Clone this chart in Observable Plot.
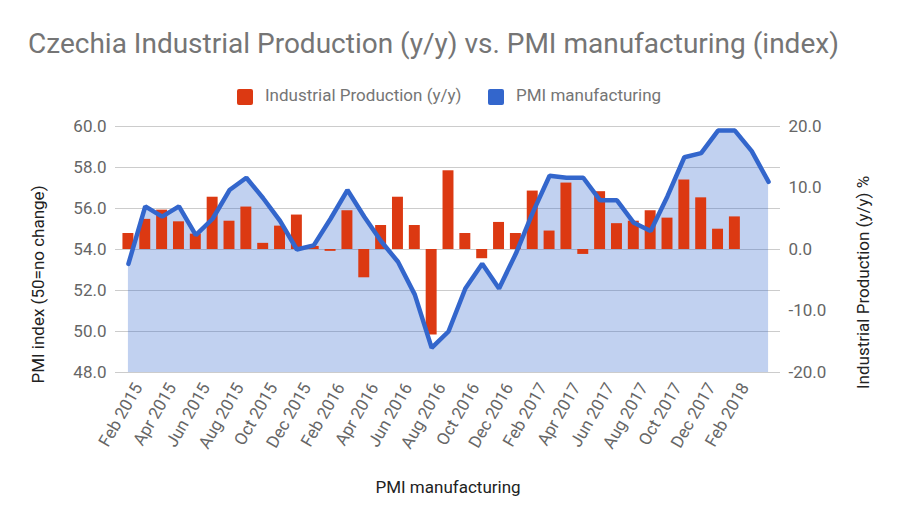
<!DOCTYPE html>
<html>
<head>
<meta charset="utf-8">
<script src="https://cdn.jsdelivr.net/npm/d3@7"></script>
<script src="https://cdn.jsdelivr.net/npm/@observablehq/plot@0.6"></script>
<style>
  body { margin: 0; background: #fff; font-family: Roboto, sans-serif; }
  #wrap { width: 900px; height: 524px; position: relative; overflow: hidden; }
  #title { height: 30px; padding-top: 29px; padding-left: 28px; font-size: 28px; line-height: 30px; color: #757575; white-space: nowrap; }
  #legend { height: 20px; margin-top: 26px; font-size: 17px; line-height: 20px; color: #757575; position: relative; }
  .sw { position: absolute; top: 4px; width: 16px; height: 16px; border-radius: 2px; }
  .lt { position: absolute; top: 0; white-space: nowrap; }
  svg { display: block; }
</style>
</head>
<body>
<div id="wrap">
  <div id="title">Czechia Industrial Production (y/y) vs. PMI manufacturing (index)</div>
  <div id="legend">
    <span class="sw" style="left:237px;background:#dc3912"></span>
    <span class="lt" style="left:265px">Industrial Production (y/y)</span>
    <span class="sw" style="left:488px;background:#3366cc"></span>
    <span class="lt" style="left:516px">PMI manufacturing</span>
  </div>
  <div id="chart"></div>
</div>
<script>
const months = [
  "Feb 2015","Mar 2015","Apr 2015","May 2015","Jun 2015","Jul 2015","Aug 2015","Sep 2015","Oct 2015","Nov 2015","Dec 2015",
  "Jan 2016","Feb 2016","Mar 2016","Apr 2016","May 2016","Jun 2016","Jul 2016","Aug 2016","Sep 2016","Oct 2016","Nov 2016","Dec 2016",
  "Jan 2017","Feb 2017","Mar 2017","Apr 2017","May 2017","Jun 2017","Jul 2017","Aug 2017","Sep 2017","Oct 2017","Nov 2017","Dec 2017",
  "Jan 2018","Feb 2018","Mar 2018","Apr 2018"
];
const pmi = [
  53.3, 56.1, 55.6, 56.1, 54.7, 55.5, 56.9, 57.5, 56.5, 55.4, 54.0,
  54.2, 55.5, 56.9, 55.6, 54.4, 53.4, 51.8, 49.2, 50.0, 52.1, 53.3, 52.1,
  53.8, 55.8, 57.6, 57.5, 57.5, 56.4, 56.4, 55.3, 54.9, 56.6, 58.5, 58.7,
  59.8, 59.8, 58.8, 57.3
];
const industrialProduction = [
  2.6, 4.9, 6.4, 4.5, 2.5, 8.5, 4.6, 6.9, 1.0, 3.8, 5.6,
  0.5, -0.3, 6.3, -4.6, 3.9, 8.5, 3.9, -13.9, 12.8, 2.6, -1.5, 4.4,
  2.6, 9.5, 3.0, 10.8, -0.8, 9.4, 4.2, 4.6, 6.3, 5.1, 11.3, 8.4,
  3.3, 5.3
];
const xTickLabels = [
  "Feb 2015","Apr 2015","Jun 2015","Aug 2015","Oct 2015","Dec 2015",
  "Feb 2016","Apr 2016","Jun 2016","Aug 2016","Oct 2016","Dec 2016",
  "Feb 2017","Apr 2017","Jun 2017","Aug 2017","Oct 2017","Dec 2017","Feb 2018"
];
const pmiTicks = [48, 50, 52, 54, 56, 58, 60];
const ipTicks = [-20, -10, 0, 10, 20];

// right axis (-20..20 %) is mapped onto the left axis (48..60 index)
const ipToPmi = v => 54 + v * 6 / 20;
const pmiToIp = v => (v - 54) * 20 / 6;

const rows = months.map((month, i) => ({month, pmi: pmi[i], ip: industrialProduction[i]}));
const barRows = rows.filter(d => d.ip != null);

const chart = Plot.plot({
  width: 900,
  height: 419,
  marginTop: 21,
  marginBottom: 152,
  marginLeft: 115,
  marginRight: 120,
  style: {fontFamily: "Roboto", fontSize: "17px", color: "#666", background: "#fff", overflow: "visible"},
  x: {type: "band", domain: months, paddingInner: 0.35, paddingOuter: 0.175, insetLeft: 4.5, insetRight: 3.5},
  y: {domain: [48, 60]},
  marks: [
    Plot.ruleY(pmiTicks, {stroke: "#cccccc"}),
    Plot.areaY(rows, {x: "month", y1: 48, y2: "pmi", fill: "#3366cc", fillOpacity: 0.3}),
    Plot.barY(barRows, {x: "month", y1: ipToPmi(0), y2: d => ipToPmi(d.ip), fill: "#dc3912"}),
    Plot.lineY(rows, {x: "month", y: "pmi", stroke: "#3366cc", strokeWidth: 4.5, strokeLinejoin: "miter"}),
    Plot.axisY(pmiTicks, {anchor: "left", tickSize: 0, tickPadding: 9, tickFormat: d => d.toFixed(1), label: null, fill: "#666", fontSize: 17}),
    Plot.axisY(ipTicks.map(ipToPmi), {anchor: "right", tickSize: 0, tickPadding: 8, tickFormat: d => pmiToIp(d).toFixed(1), label: null, fill: "#666", fontSize: 17}),
    Plot.axisX(xTickLabels, {anchor: "bottom", tickSize: 0, tickPadding: 0, tickRotate: -60, dx: 10, dy: 12, label: null, fill: "#666", fontSize: 17}),
    Plot.text(["PMI index (50=no change)"], {text: d => d, frameAnchor: "left", rotate: -90, dx: -77, dy: 35, fill: "#222", fontSize: 17, textAnchor: "middle", lineAnchor: "middle"}),
    Plot.text(["Industrial Production (y/y) %"], {text: d => d, frameAnchor: "right", rotate: -90, dx: 83, dy: 33, fill: "#222", fontSize: 17, textAnchor: "middle", lineAnchor: "middle"}),
    Plot.text(["PMI manufacturing"], {text: d => d, frameAnchor: "bottom", dy: 115, fill: "#222", fontSize: 17, textAnchor: "middle", lineAnchor: "middle"})
  ]
});
document.getElementById("chart").appendChild(chart);
</script>
</body>
</html>
